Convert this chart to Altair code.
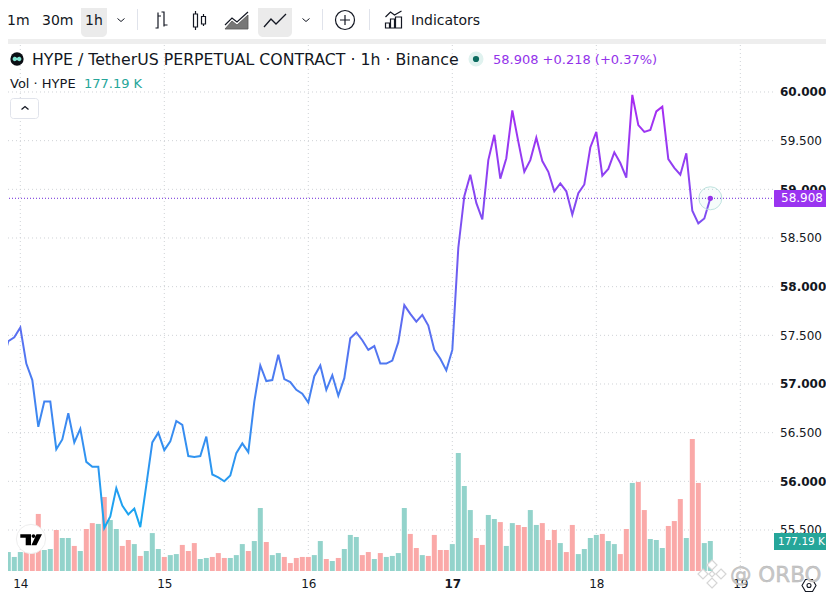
import altair as alt
import pandas as pd

hours = list(range(-3, 116))
prices = [57.21, 57.44, 57.48, 57.58, 57.21, 57.04, 56.56, 56.82, 56.82, 56.33,
          56.43, 56.70, 56.40, 56.54, 56.20, 56.15, 56.15, 55.52, 55.64, 55.93,
          55.75, 55.66, 55.72, 55.53, 55.96, 56.40, 56.50, 56.32, 56.41, 56.62,
          56.58, 56.26, 56.25, 56.26, 56.46, 56.07, 56.04, 56.00, 56.06, 56.29,
          56.39, 56.30, 56.82, 57.19, 57.03, 57.04, 57.30, 57.05, 57.02, 56.94,
          56.90, 56.81, 57.08, 57.19, 56.94, 57.09, 56.88, 57.06, 57.47, 57.53,
          57.45, 57.35, 57.39, 57.21, 57.21, 57.24, 57.43, 57.81, 57.72, 57.64,
          57.71, 57.60, 57.35, 57.26, 57.14, 57.35, 58.40, 58.93, 59.15, 58.86,
          58.69, 59.30, 59.56, 59.11, 59.32, 59.81, 59.49, 59.18, 59.30, 59.53,
          59.29, 59.18, 58.98, 59.06, 58.98, 58.74, 58.96, 59.05, 59.43, 59.59,
          59.14, 59.21, 59.38, 59.27, 59.12, 59.97, 59.66, 59.59, 59.61, 59.80,
          59.85, 59.31, 59.22, 59.15, 59.37, 58.78, 58.65, 58.70, 58.908]
volumes = [118, 112, 83, 112, 130, 142, 337, 124, 130, 242, 195, 195, 148, 118, 248,
           283, 278, 437, 301, 248, 148, 183, 159, 89, 118, 224, 130, 83, 94, 100,
           154, 118, 165, 71, 77, 83, 106, 77, 77, 94, 159, 118, 177, 372, 171, 94,
           106, 83, 47, 77, 83, 83, 94, 177, 71, 59, 77, 130, 213, 201, 94, 112, 71,
           106, 83, 89, 106, 372, 219, 136, 94, 89, 213, 124, 124, 159, 697, 502, 360,
           195, 154, 331, 307, 289, 148, 283, 272, 260, 360, 272, 283, 183, 242, 165,
           112, 272, 100, 130, 195, 213, 219, 177, 159, 100, 248, 520, 526, 360, 189,
           183, 136, 266, 295, 425, 195, 780, 520, 165, 177.19]
directions = [
    "d", "u", "u", "u", "d", "d", "d", "u", "u", "d", "u", "u", "d", "u", "d",
    "d", "u", "d", "u", "u", "d", "d", "u", "d", "u", "u", "u", "d", "u", "u",
    "d", "d", "d", "u", "u", "d", "d", "d", "u", "u", "u", "d", "u", "u", "d",
    "u", "u", "d", "d", "d", "d", "d", "u", "u", "d", "u", "d", "u", "u", "u",
    "d", "d", "u", "d", "u", "u", "u", "u", "d", "d", "u", "d", "d", "d", "d",
    "u", "u", "u", "u", "d", "d", "u", "u", "d", "u", "u", "d", "d", "u", "u",
    "d", "d", "d", "u", "d", "d", "u", "u", "u", "u", "d", "u", "u", "d", "d",
    "u", "d", "d", "u", "u", "u", "d", "d", "d", "u", "d", "d", "u", "u"]
tick_hours = [0, 24, 48, 72, 96, 120]
tick_labels = ["14", "15", "16", "17", "18", "19"]
price_ticks = [55.5, 56.0, 56.5, 57.0, 57.5, 58.0, 58.5, 59.0, 59.5, 60.0]
last_price = 58.908
last_volume = 177.19
last_hour = 115

df = pd.DataFrame({"hour": hours, "price": prices, "volume": volumes, "dir": directions})
one = alt.Data(values=[{"a": 1}])
FONT = "DejaVu Sans"
INK = "#131722"
GRID = "#cfd2d6"
W, H = 818, 584
xs = alt.Scale(domain=[-2.05, 134.28], nice=False, zero=False, padding=0)
ps = alt.Scale(domain=[54.863, 60.863], nice=False, zero=False)
vs = alt.Scale(domain=[-124, 3325], nice=False, zero=False)
x_axis = alt.Axis(values=tick_hours, orient="bottom", offset=-21, domain=False, ticks=False, grid=False, title=None,
                  labelFont=FONT, labelFontSize=12, labelColor=INK, labelPadding=7,
                  labelFlush=False, labelOverlap=False,
                  labelExpr="{" + ",".join(f"'{h}':'{t}'" for h, t in zip(tick_hours, tick_labels)) + "}[datum.value]",
                  labelFontWeight={"condition": {"test": "datum.value == 72", "value": "bold"}, "value": "normal"})
X = alt.X("hour:Q", scale=xs, axis=x_axis)


def px(v):
    return alt.value(v - 8)


def label(x, y, s, size=14, color=INK, align="left", weight="normal", **kw):
    return alt.Chart(one).mark_text(text=s, font=FONT, fontSize=size, color=color, align=align,
                                    baseline="middle", fontWeight=weight, **kw).encode(x=px(x), y=px(y + 0.5))


def box(x1, y1, x2, y2, color, **kw):
    return alt.Chart(one).mark_rect(color=color, **kw).encode(x=px(x1), x2=px(x2), y=px(y1), y2=px(y2))


def icon(x, y, path, color=INK, width=1.0, fill=None):
    kw = {"fill": fill, "filled": True, "fillOpacity": 1} if fill else {"filled": False}
    return alt.Chart(one).mark_point(shape=path, size=4, stroke=color, strokeWidth=width, opacity=1, **kw).encode(x=px(x), y=px(y))


def disc(x, y, r, fill, stroke=None, sw=1):
    kw = {"stroke": stroke, "strokeWidth": sw} if stroke else {"strokeWidth": 0}
    return alt.Chart(one).mark_point(shape="circle", size=3.14159 * r * r, fill=fill, filled=True, fillOpacity=1, opacity=1, **kw).encode(x=px(x), y=px(y))


# chart pane
vgrid = alt.Chart(pd.DataFrame({"hour": tick_hours})).mark_rule(color=GRID, strokeDash=[1, 3], strokeWidth=1).encode(
    x=X, y=px(41), y2=px(571))
hgrid = alt.Chart(pd.DataFrame({"price": price_ticks})).mark_rule(color=GRID, strokeDash=[1, 3], strokeWidth=1).encode(
    y=alt.Y("price:Q", scale=ps,
            axis=alt.Axis(values=price_ticks, orient="right", offset=-51, domain=False, ticks=False, grid=False, title=None,
                          format=".3f", labelFont=FONT, labelFontSize=12, labelColor=INK, labelPadding=4.5,
                          labelFlush=False, labelOverlap=False,
                          labelFontWeight={"condition": {"test": "datum.value % 1 == 0", "value": "bold"}, "value": "normal"})),
    x=px(0), x2=px(774))

bars = alt.Chart(df).mark_bar(size=5, orient="vertical", opacity=1).encode(
    x=X,
    y=alt.Y("volume:Q", scale=vs, axis=None),
    y2=alt.Y2(datum=0),
    color=alt.Color("dir:N", scale=alt.Scale(domain=["u", "d"], range=["#93d3cb", "#faa9a8"]), legend=None))

line = alt.Chart(df).mark_line(
    strokeWidth=2, interpolate="linear",
    stroke=alt.Gradient(gradient="linear", x1=0, y1=0, x2=0, y2=1,
                        stops=[alt.GradientStop(offset=0, color="#a92af2"),
                               alt.GradientStop(offset=1, color="#18a8f0")])).encode(
    x=X, y=alt.Y("price:Q", scale=ps, axis=None))

last = pd.DataFrame({"hour": [last_hour], "price": [last_price], "volume": [last_volume]})
price_rule = alt.Chart(last).mark_rule(color="#6d28d9", strokeDash=[1, 2], strokeWidth=1).encode(
    y=alt.Y("price:Q", scale=ps, axis=None), x=px(0), x2=px(774))
halo = alt.Chart(last).mark_point(shape="circle", size=531, filled=True, fill="#26a69a", fillOpacity=0.04,
                                  stroke="#bfe3df", strokeWidth=1, opacity=1).encode(
    x=X, y=alt.Y("price:Q", scale=ps, axis=None))
dot = alt.Chart(last).mark_circle(size=28, color="#9333ea", opacity=1).encode(
    x=X, y=alt.Y("price:Q", scale=ps, axis=None))
price_tag = box(774, 190, 829, 207, "#9a34f0", cornerRadius=1)
price_tag_text = alt.Chart(last).mark_text(font=FONT, fontSize=12, color="white", align="left", baseline="middle").encode(
    x=px(781), y=alt.Y("price:Q", scale=ps, axis=None), text=alt.Text("price:Q", format=".3f"))
vol_tag = box(774, 533, 834, 550, "#26a69a")
vol_tag_text = label(778, 541.5, "177.19 K", 10.5, "white")

# TradingView badge
badge = [
    disc(31, 539, 16.5, "white", "#eeeeee", 1),
    icon(31, 539.5, "M-10.7,-5.3 H0 V5.7 H-5.3 V-1.7 H-10.7 Z M2.5,-5.3 A1.9,1.9 0 1 1 2.49,-5.3 Z M5.5,-5.3 H11 L5.4,5.7 H0.4 Z", "#000000", 0, "#000000"),
]

# toolbar
toolbar = [
    box(0, 39, 834, 44, "#eeeeee"),
    box(81, 3, 107, 37, "#ebebeb", cornerRadius=5),
    box(258, 3, 292, 37, "#ebebeb", cornerRadius=5),
    label(7, 20, "1m"), label(42, 20, "30m"), label(85, 20, "1h"),
    label(411, 20, "Indicators"),
    icon(121, 20, "M-3.5,-1.5 L0,1.5 L3.5,-1.5"),
    icon(306, 20, "M-3.5,-1.5 L0,1.5 L3.5,-1.5"),
    box(137, 9, 138, 30, "#e0e3eb"), box(322, 9, 323, 30, "#e0e3eb"), box(369, 9, 370, 30, "#e0e3eb"),
    icon(161, 20, "M-3,-7.5 V8.5 M-5.5,8 H-3 M-3,-4 H0 M3,-8.5 V6.5 M3,-8 H0.5 M3,5 H6.5", width=1.2),
    icon(199.5, 20, "M-4,-9 V-6 M-6,-6 H-2 V7 H-6 Z M-4,7 V10 M4,-6 V-3.5 M2,-3.5 H6 V4 H2 Z M4,4 V6", width=1.2),
    icon(237, 20, "M-12,5 L-5,-2 L0,2 L11,-8", width=1.2),
    icon(237, 20, "M-12,9 L-5,1 L0,5 L11,-5 V9 Z", "#555555", 0.8, "#777777"),
    icon(275, 20, "M-11,7 L-4,-1 L1,4 L11,-6", width=1.3),
    icon(345, 20, "M-9.5,0 A9.5,9.5 0 1 1 9.5,0 A9.5,9.5 0 1 1 -9.5,0 Z M-5,0 H5 M0,-5 V5", width=1.2),
    icon(393.5, 20, "M-8,-3 L-3,-8 L1,-5 L8,-9 M-8,8 V3 H-4 V8 Z M-3,8 V-1 H1 V8 Z M2,8 V-3 H8 V8 Z M-8,8 H8", width=1.2),
]

# legend area
header = [
    disc(17, 59, 7.5, "#0b0e14"),
    icon(17, 59, "M-4.5,0 C-3.5,-3 -1.5,-2.5 0,-1 C1.5,-2.5 3.5,-3 4.5,0 C3.5,3 1.5,2.5 0,1 C-1.5,2.5 -3.5,3 -4.5,0 Z", "#7fe3d0", 0, "#7fe3d0"),
    label(32, 59, "HYPE / TetherUS PERPETUAL CONTRACT · 1h · Binance", 15.75),
    disc(476, 59, 8.5, "#e0f2ef"),
    disc(476, 59, 3.5, "#0b6b5f"),
    label(493, 59, "58.908 +0.218 (+0.37%)", 13, "#9333ea"),
    label(10, 83.5, "Vol · HYPE", 13),
    label(84, 83.5, "177.19 K", 13, "#26a69a"),
    box(10.5, 98.5, 38.5, 118.5, "white", stroke="#e0e3eb", cornerRadius=3, strokeWidth=1),
    icon(25, 108, "M-3.5,1.5 L0,-1.5 L3.5,1.5", width=1.3),
]

# footer
footer = [
    icon(809, 585.5, "M-3.5,-6 H3.5 L7,0 L3.5,6 H-3.5 L-7,0 Z M-2,0 A2,2 0 1 1 2,0 A2,2 0 1 1 -2,0 Z", width=1.1),
    icon(712, 574, "M0,-14 L5,-9 L0,-4 L-5,-9 Z M0,14 L5,9 L0,4 L-5,9 Z M-9,-5 L-4,0 L-9,5 L-14,0 Z M9,-5 L14,0 L9,5 L4,0 Z M0,-3 L3,0 L0,3 L-3,0 Z", "#d6d6d6", 1.2, "#ffffff"),
    label(730, 575, "@ ORBO", 21.5, "#c8c8c8", stroke="#b5b5b5", strokeWidth=0.4),
]

chart = alt.layer(
    vgrid, hgrid, bars, line, price_rule, halo, dot, price_tag, price_tag_text, vol_tag, vol_tag_text,
    *badge, *toolbar, *header, *footer,
).resolve_scale(y="independent", x="shared", color="independent").properties(
    width=W, height=H, padding=0, autosize=alt.AutoSizeParams(type="none"),
    background="white",
).configure_view(stroke=None)

chart.save("out.html", embed_options={"renderer": "svg", "actions": False})
